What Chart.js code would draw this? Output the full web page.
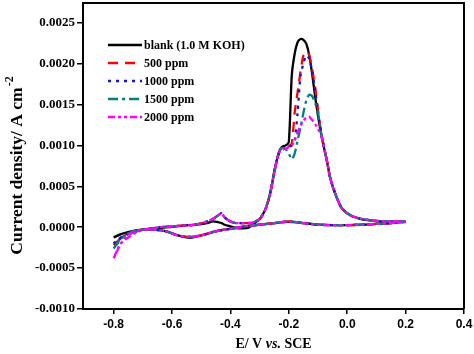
<!DOCTYPE html>
<html>
<head>
<meta charset="utf-8">
<script src="https://cdn.jsdelivr.net/npm/chart.js@4.4.1/dist/chart.umd.min.js"></script>
<style>
  html, body { margin: 0; padding: 0; background: #fff; }
  #wrap { width: 474px; height: 354px; }
</style>
</head>
<body>
<div id="wrap"><canvas id="cvChart" width="474" height="354"></canvas></div>
<script>
/* global Chart */

// potentials (V vs. SCE), anodic sweep then cathodic sweep
var FWD_E = [-0.80, -0.78, -0.76, -0.72, -0.68, -0.64, -0.60, -0.56, -0.52, -0.48,
  -0.46, -0.44, -0.43, -0.42, -0.40, -0.38, -0.36, -0.34, -0.32, -0.30,
  -0.29, -0.28, -0.27, -0.26, -0.25, -0.24, -0.23, -0.22, -0.21, -0.20,
  -0.19, -0.18, -0.17, -0.16, -0.15, -0.14, -0.13, -0.12, -0.11, -0.10,
  -0.09, -0.08, -0.07, -0.06, -0.05, -0.04, -0.03, -0.02, -0.01, 0.00,
  0.02, 0.05, 0.10, 0.15, 0.20];
var REV_E = [0.20, 0.15, 0.10, 0.05, 0.00, -0.05, -0.10, -0.15, -0.20, -0.25,
  -0.30, -0.35, -0.40, -0.45, -0.50, -0.54, -0.58, -0.62, -0.66, -0.70,
  -0.74, -0.77, -0.80];

var SERIES_NAMES = ["blank (1.0 M KOH)", "500 ppm", "1000 ppm", "1500 ppm", "2000 ppm"];

// current density (A cm-2)
var BLANK_FWD = [-0.000125, -0.00009, -0.00007, -0.00004, -0.00002, -0.00001, 0.000005, 0.00002, 0.00003, 0.00005,
  0.00007, 0.00006, 0.00005, 0.00003, 0.00001, -0.00001, -0.000015, -0.00001, 0.00004, 0.0001,
  0.00015, 0.00022, 0.00033, 0.00048, 0.00068, 0.00084, 0.00095, 0.00099, 0.001, 0.00104,
  0.00185, 0.00212, 0.00226, 0.0023, 0.00229, 0.00224, 0.0021, 0.00187, 0.0016, 0.00136,
  0.00115, 0.00098, 0.00082, 0.00063, 0.0005, 0.0004, 0.00031, 0.00024, 0.0002, 0.00017,
  0.00013, 0.000095, 0.000075, 0.000068, 0.000065];
var BLANK_REV = [0.000065, 0.00005, 0.00004, 0.00003, 0.000025, 0.000025, 0.00003, 0.00005, 0.000065, 0.00005,
  0.00003, 0.00001, -0.00002, -0.00005, -0.0001, -0.00013, -0.0001, -0.00005, -0.00003, -0.00003,
  -0.00005, -0.00008, -0.000125];

var PPM500_FWD = [-0.00022, -0.00015, -0.0001, -0.00005, -0.00002, 0, 0.00001, 0.00002, 0.00003, 0.00007,
  0.0001, 0.00015, 0.00016, 0.00012, 0.00007, 0.00005, 0.00005, 0.00005, 0.00006, 0.0001,
  0.00015, 0.00022, 0.00033, 0.00048, 0.00067, 0.00083, 0.00094, 0.00097, 0.00098, 0.00099,
  0.00102, 0.0014, 0.00165, 0.0019, 0.0021, 0.00215, 0.0021, 0.00193, 0.00171, 0.00143,
  0.00117, 0.00098, 0.00082, 0.00063, 0.0005, 0.0004, 0.00031, 0.00024, 0.0002, 0.00017,
  0.00013, 0.0001, 0.000076, 0.000068, 0.000066];
var PPM500_REV = [0.000066, 0.00005, 0.00004, 0.00003, 0.000025, 0.000025, 0.00003, 0.00005, 0.00007, 0.00005,
  0.00003, 0.00001, -0.00002, -0.00005, -0.0001, -0.00012, -0.0001, -0.00005, -0.00003, -0.00003,
  -0.00006, -0.00012, -0.00022];

var PPM1000_FWD = [-0.0002, -0.00014, -0.0001, -0.00005, -0.00002, 0, 0.00001, 0.00002, 0.00003, 0.00007,
  0.0001, 0.00015, 0.00017, 0.00012, 0.00007, 0.00005, 0.00005, 0.00005, 0.00006, 0.0001,
  0.00015, 0.00022, 0.00033, 0.00048, 0.00067, 0.00083, 0.00094, 0.00096, 0.00097, 0.00098,
  0.001, 0.00106, 0.0014, 0.00185, 0.002, 0.0021, 0.00206, 0.0019, 0.00168, 0.0014,
  0.00116, 0.00098, 0.00082, 0.00063, 0.0005, 0.0004, 0.00031, 0.00024, 0.0002, 0.00017,
  0.00013, 0.0001, 0.000078, 0.00007, 0.000068];
var PPM1000_REV = [0.000068, 0.00005, 0.00004, 0.00003, 0.000025, 0.000025, 0.00003, 0.00005, 0.00007, 0.00005,
  0.00003, 0.00001, -0.00002, -0.00005, -0.0001, -0.00012, -0.0001, -0.00005, -0.00003, -0.00003,
  -0.00006, -0.00011, -0.0002];

var PPM1500_FWD = [-0.00026, -0.00016, -0.00011, -0.00005, -0.00002, 0, 0.00001, 0.00002, 0.00003, 0.00007,
  0.0001, 0.00015, 0.00016, 0.00012, 0.00007, 0.00005, 0.00005, 0.00005, 0.00006, 0.0001,
  0.00015, 0.00022, 0.00033, 0.00048, 0.00067, 0.00083, 0.00095, 0.00097, 0.00095, 0.0009,
  0.00083, 0.0009, 0.00106, 0.00122, 0.0014, 0.00155, 0.00162, 0.0016, 0.00152, 0.0014,
  0.00117, 0.00098, 0.00082, 0.00063, 0.0005, 0.0004, 0.00031, 0.00024, 0.0002, 0.00017,
  0.00013, 0.0001, 0.000078, 0.00007, 0.000068];
var PPM1500_REV = [0.000068, 0.00005, 0.00004, 0.00003, 0.000025, 0.000025, 0.00003, 0.00005, 0.00007, 0.00005,
  0.00003, 0.00001, -0.00002, -0.00005, -0.0001, -0.00012, -0.0001, -0.00005, -0.00003, -0.00003,
  -0.00006, -0.00013, -0.00026];

var PPM2000_FWD = [-0.00038, -0.00022, -0.00015, -0.00006, -0.00002, 0, 0.00001, 0.00002, 0.00003, 0.00007,
  0.0001, 0.00015, 0.00017, 0.00012, 0.00007, 0.00005, 0.00005, 0.00005, 0.00006, 0.0001,
  0.00015, 0.00022, 0.00033, 0.00048, 0.00067, 0.00083, 0.00094, 0.00095, 0.00096, 0.00098,
  0.001, 0.00106, 0.00116, 0.00124, 0.0013, 0.00134, 0.00135, 0.00131, 0.00126, 0.0012,
  0.00113, 0.00098, 0.00082, 0.00063, 0.0005, 0.0004, 0.00031, 0.00024, 0.0002, 0.00017,
  0.00013, 0.0001, 0.000078, 0.00007, 0.000068];
var PPM2000_REV = [0.000068, 0.00005, 0.00004, 0.00003, 0.000025, 0.000025, 0.00003, 0.00005, 0.00007, 0.00005,
  0.00003, 0.00001, -0.00002, -0.00005, -0.0001, -0.00012, -0.0001, -0.00005, -0.00003, -0.00003,
  -0.00007, -0.00017, -0.00038];

var X_TICKS = [-0.8, -0.6, -0.4, -0.2, 0.0, 0.2, 0.4];
var Y_TICKS = [-0.001, -0.0005, 0, 0.0005, 0.001, 0.0015, 0.002, 0.0025];

var STYLES = [
  { color: "#000000", dash: [] },
  { color: "#ff0000", dash: [10, 7] },
  { color: "#1414c8", dash: [3, 5] },
  { color: "#008080", dash: [10, 4, 3, 4] },
  { color: "#ff00ff", dash: [7, 3, 3, 3, 3, 3] },
];

function loop(fwd, rev) {
  var pts = FWD_E.map(function (e, i) {
    return { x: e, y: fwd[i] };
  });
  return pts.concat(REV_E.map(function (e, i) {
    return { x: e, y: rev[i] };
  }));
}

function makeDatasets() {
  var curves = [
    loop(BLANK_FWD, BLANK_REV),
    loop(PPM500_FWD, PPM500_REV),
    loop(PPM1000_FWD, PPM1000_REV),
    loop(PPM1500_FWD, PPM1500_REV),
    loop(PPM2000_FWD, PPM2000_REV),
  ];
  return curves.map(function (pts, i) {
    return {
      label: SERIES_NAMES[i],
      data: pts,
      showLine: true,
      borderColor: STYLES[i].color,
      borderDash: STYLES[i].dash,
      borderWidth: 2.3,
      pointRadius: 0,
      tension: 0.25,
      fill: false,
      // last series on top
      order: 4 - i,
    };
  });
}

var SERIF = "'Liberation Serif', 'Times New Roman', serif";
var SANS = "'Liberation Sans', Arial, sans-serif";

// frame, legend and axis titles
var decorations = {
  id: "decorations",
  afterDraw: function (chart) {
    var ctx = chart.ctx;
    var a = chart.chartArea;
    ctx.save();
    ctx.strokeStyle = "#000";
    ctx.lineWidth = 2;
    ctx.beginPath();
    ctx.moveTo(a.left, a.top);
    ctx.lineTo(a.right, a.top);
    ctx.lineTo(a.right, a.bottom);
    ctx.stroke();

    // legend
    ctx.textBaseline = "middle";
    ctx.font = "bold 12px " + SERIF;
    ctx.fillStyle = "#000";
    ctx.lineWidth = 2.3;
    for (var i = 0; i < SERIES_NAMES.length; i++) {
      var y = 45 + i * 18;
      ctx.strokeStyle = STYLES[i].color;
      ctx.setLineDash(STYLES[i].dash);
      ctx.beginPath();
      ctx.moveTo(108, y);
      ctx.lineTo(142, y);
      ctx.stroke();
      ctx.fillText(SERIES_NAMES[i], 144, y + 1);
    }
    ctx.setLineDash([]);

    // x title, "vs." in italic
    var parts = [
      ["E/ V ", "bold 14px " + SERIF],
      ["vs.", "italic bold 14px " + SERIF],
      [" SCE", "bold 14px " + SERIF],
    ];
    var total = 0;
    parts.forEach(function (p) {
      ctx.font = p[1];
      total += ctx.measureText(p[0]).width;
    });
    var x = (a.left + a.right) / 2 - total / 2;
    ctx.textBaseline = "alphabetic";
    parts.forEach(function (p) {
      ctx.font = p[1];
      ctx.fillText(p[0], x, 348);
      x += ctx.measureText(p[0]).width;
    });

    // y title with superscript
    ctx.translate(22, 166);
    ctx.rotate(-Math.PI / 2);
    ctx.font = "bold 17.5px " + SERIF;
    var main = "Current density/ A cm";
    var mw = ctx.measureText(main).width;
    ctx.font = "bold 12px " + SERIF;
    var sup = "-2";
    var sw = ctx.measureText(sup).width;
    var sx = -(mw + sw) / 2;
    ctx.font = "bold 17.5px " + SERIF;
    ctx.fillText(main, sx, 0);
    ctx.font = "bold 12px " + SERIF;
    ctx.fillText(sup, sx + mw + 1, -9);
    ctx.restore();
  },
};

new Chart(document.getElementById("cvChart"), {
  type: "scatter",
  data: { datasets: makeDatasets() },
  options: {
    responsive: false,
    devicePixelRatio: 1,
    animation: false,
    layout: { padding: { left: 0, top: 3, right: 10, bottom: 0 } },
    plugins: {
      legend: { display: false },
      tooltip: { enabled: false },
    },
    scales: {
      x: {
        type: "linear",
        min: -0.905,
        max: 0.4,
        afterBuildTicks: function (scale) {
          scale.ticks = X_TICKS.map(function (v) {
            return { value: v };
          });
        },
        afterFit: function (scale) {
          scale.height = 45;
          scale.paddingLeft = 0;
          scale.paddingRight = 0;
        },
        ticks: {
          color: "#000",
          font: { family: SANS, weight: "bold", size: 12 },
          padding: 3,
          maxRotation: 0,
          autoSkip: false,
          callback: function (v) {
            return v.toFixed(1);
          },
        },
        grid: { drawOnChartArea: false, color: "#000", tickLength: 5, lineWidth: 1.5 },
        border: { color: "#000", width: 2 },
      },
      y: {
        type: "linear",
        min: -0.001,
        max: 0.00274,
        afterBuildTicks: function (scale) {
          scale.ticks = Y_TICKS.map(function (v) {
            return { value: v };
          });
        },
        afterFit: function (scale) {
          scale.width = 83;
          scale.paddingTop = 0;
          scale.paddingBottom = 0;
        },
        ticks: {
          color: "#000",
          font: { family: SERIF, weight: "bold", size: 13 },
          padding: 2,
          autoSkip: false,
          callback: function (v) {
            return v.toFixed(4);
          },
        },
        grid: { drawOnChartArea: false, color: "#000", tickLength: 6, lineWidth: 1.5 },
        border: { color: "#000", width: 2 },
      },
    },
  },
  plugins: [decorations],
});
</script>
</body>
</html>
